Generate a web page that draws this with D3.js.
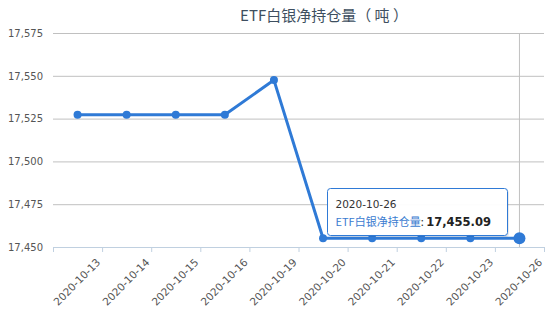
<!DOCTYPE html>
<html>
<head>
<meta charset="utf-8">
<script src="https://cdn.jsdelivr.net/npm/d3@7"></script>
<style>
  body { margin: 0; background: #fff; }
  svg { display: block; }
  .tick text { font-family: "DejaVu Sans", sans-serif; }
</style>
</head>
<body>
<svg id="chart" width="552" height="313"></svg>
<script>
const dates = ['2020-10-13', '2020-10-14', '2020-10-15', '2020-10-16', '2020-10-19',
  '2020-10-20', '2020-10-21', '2020-10-22', '2020-10-23', '2020-10-26'];
const holdings = [17527.2, 17527.2, 17527.2, 17527.2, 17547.5,
  17455.09, 17455.09, 17455.09, 17455.09, 17455.09];
const yTicks = [17450, 17475, 17500, 17525, 17550, 17575];
const seriesName = 'ETF白银净持仓量';

const plotLeft = 53;
const plotRight = 544;
const plotTop = 33;
const plotBottom = 247;
const lineColor = '#2f7ad6';

const svg = d3.select('#chart');

const x = d3.scaleBand()
  .domain(dates)
  .range([plotLeft, plotRight]);

const xEdge = d3.scaleLinear()
  .domain([0, dates.length])
  .range([plotLeft, plotRight]);

const y = d3.scaleLinear()
  .domain([17450, 17575])
  .range([plotBottom, plotTop]);

// title
svg.append('text')
  .text('ETF白银净持仓量（ 吨 ）')
  .attr('x', 324)
  .attr('y', 21)
  .attr('text-anchor', 'middle')
  .style('font-family', '"Noto Sans CJK SC", sans-serif')
  .style('font-size', '15px')
  .style('fill', '#3e4f60')

// grid + y labels
const yAxis = svg.append('g')
  .attr('transform', `translate(${plotLeft}, 0)`)
  .call(d3.axisLeft(y)
    .tickValues(yTicks)
    .tickSize(-(plotRight - plotLeft))
    .tickPadding(10)
    .tickFormat(d3.format(',')))
yAxis.select('.domain').remove()
yAxis.selectAll('.tick line').attr('stroke', '#c0c0c0')
yAxis.selectAll('.tick text')
  .style('font-size', '10px')
  .style('fill', '#555')

// crosshair on last point
const last = dates.length - 1;
svg.append('line')
  .attr('x1', x(dates[last]) + x.bandwidth() / 2)
  .attr('x2', x(dates[last]) + x.bandwidth() / 2)
  .attr('y1', plotTop)
  .attr('y2', plotBottom)
  .attr('stroke', '#c0c0c0')

// x axis, ticks on band edges
const xAxis = svg.append('g')
  .attr('transform', `translate(0, ${plotBottom})`)
  .call(d3.axisBottom(xEdge)
    .tickValues(d3.range(dates.length + 1))
    .tickSize(5)
    .tickFormat(''))
xAxis.selectAll('path, line').attr('stroke', '#c0d0e0')

svg.append('g')
  .selectAll('text')
  .data(dates)
  .enter()
  .append('text')
  .text((d) => d)
  .attr('transform', (d) => `translate(${x(d) + x.bandwidth() - 1}, ${plotBottom + 16}) rotate(-45)`)
  .attr('text-anchor', 'end')
  .style('font-family', '"DejaVu Sans", sans-serif')
  .style('font-size', '10.5px')
  .style('fill', '#555')

// line + markers
const pts = dates.map((d, i) => [x(d) + x.bandwidth() / 2, y(holdings[i])]);

svg.append('path')
  .attr('d', d3.line()(pts))
  .attr('fill', 'none')
  .attr('stroke', lineColor)
  .attr('stroke-width', 3)
  .attr('stroke-linejoin', 'round')

svg.append('g')
  .selectAll('circle')
  .data(pts)
  .enter()
  .append('circle')
  .attr('cx', (d) => d[0])
  .attr('cy', (d) => d[1])
  .attr('r', (d, i) => i === last ? 6 : 4)
  .attr('fill', lineColor)

// tooltip
const tip = svg.append('g').attr('transform', 'translate(327.5, 188.5)');
tip.append('rect')
  .attr('x', 1.5)
  .attr('y', 1.5)
  .attr('width', 180)
  .attr('height', 47)
  .attr('rx', 3)
  .attr('fill', 'rgba(0,0,0,0.08)')
tip.append('rect')
  .attr('width', 180)
  .attr('height', 47)
  .attr('rx', 3)
  .attr('fill', 'rgba(255,255,255,0.96)')
  .attr('stroke', lineColor)
tip.append('text')
  .text(dates[last])
  .attr('x', 8)
  .attr('y', 19.5)
  .style('font-family', '"DejaVu Sans", sans-serif')
  .style('font-size', '10.5px')
  .style('fill', '#333')
const line2 = tip.append('text')
  .attr('x', 8)
  .attr('y', 37)
  .style('font-family', '"Noto Sans CJK SC", sans-serif')
  .style('font-size', '11px')
line2.append('tspan')
  .text(seriesName)
  .style('fill', '#3a7bd0')
line2.append('tspan')
  .text(': ')
  .style('fill', '#333')
line2.append('tspan')
  .text(d3.format(',.2f')(holdings[last]))
  .style('font-weight', 'bold')
  .style('font-family', '"DejaVu Sans", sans-serif')
  .style('font-size', '11.5px')
  .style('fill', '#222')
</script>
</body>
</html>
